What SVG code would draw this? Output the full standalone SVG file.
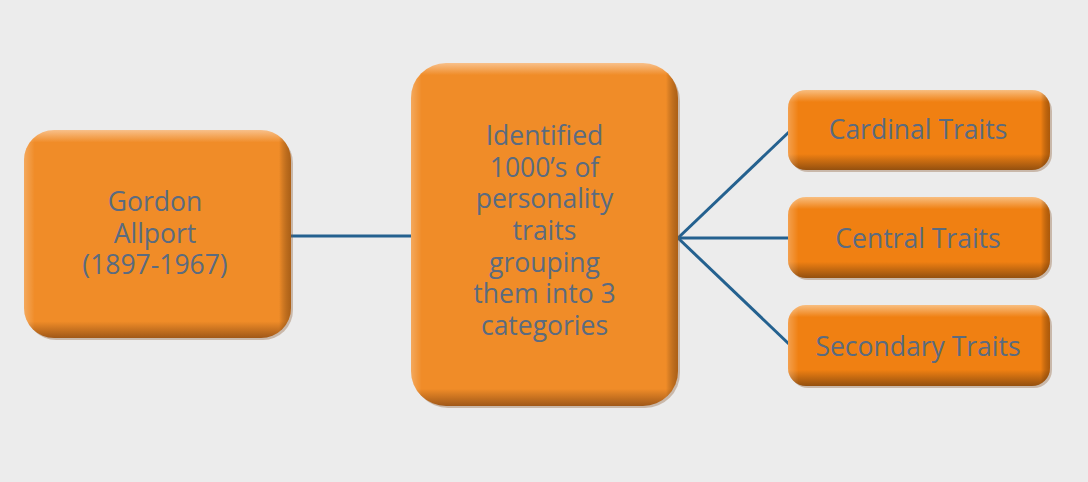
<svg xmlns="http://www.w3.org/2000/svg" width="1088" height="482" viewBox="0 0 1088 482">
<defs>
<linearGradient id="gA" x1="0" y1="0" x2="0" y2="1">
<stop offset="0" stop-color="#F8C08A"/>
<stop offset="0.06" stop-color="#F08C28"/>
<stop offset="0.92" stop-color="#F08C28"/>
<stop offset="1" stop-color="#A05818"/>
</linearGradient>
<linearGradient id="gB" x1="0" y1="0" x2="0" y2="1">
<stop offset="0" stop-color="#F8C08A"/>
<stop offset="0.035" stop-color="#F08C28"/>
<stop offset="0.95" stop-color="#F08C28"/>
<stop offset="1" stop-color="#A05818"/>
</linearGradient>
<linearGradient id="gC" x1="0" y1="0" x2="0" y2="1">
<stop offset="0" stop-color="#F8BE80"/>
<stop offset="0.15" stop-color="#F08012"/>
<stop offset="0.8" stop-color="#F08012"/>
<stop offset="1" stop-color="#94500F"/>
</linearGradient>
<linearGradient id="gR" x1="0" y1="0" x2="1" y2="0">
<stop offset="0.955" stop-color="#000" stop-opacity="0"/>
<stop offset="1" stop-color="#5a2a00" stop-opacity="0.45"/>
</linearGradient>
<linearGradient id="gRs" x1="0" y1="0" x2="1" y2="0">
<stop offset="0.965" stop-color="#000" stop-opacity="0"/>
<stop offset="1" stop-color="#5a2a00" stop-opacity="0.45"/>
</linearGradient>
<linearGradient id="gL" x1="0" y1="0" x2="1" y2="0">
<stop offset="0" stop-color="#fff" stop-opacity="0.25"/>
<stop offset="0.04" stop-color="#fff" stop-opacity="0"/>
</linearGradient>
</defs>
<style>
.t{font-family:"Open Sans","Liberation Sans",sans-serif;fill:#5a6b80;text-anchor:middle;font-size:26.5px}
.sh{fill:#8a5a30;opacity:0.35}
.c{stroke:#24618f;stroke-width:3;fill:none}
</style>
<rect width="1088" height="482" fill="#ECECEC"/>
<g id="connectors">
<line class="c" x1="291" y1="236" x2="411" y2="236"/>
<line class="c" x1="678" y1="238" x2="790" y2="131"/>
<line class="c" x1="678" y1="238" x2="790" y2="238"/>
<line class="c" x1="678" y1="238" x2="790" y2="345"/>
</g>
<g id="gordon">
<rect class="sh" x="26" y="133" width="267" height="207" rx="30"/>
<rect x="24" y="130" width="267" height="208" rx="30" fill="url(#gA)"/>
<rect x="24" y="130" width="267" height="208" rx="30" fill="url(#gR)"/>
<rect x="24" y="130" width="267" height="208" rx="30" fill="url(#gL)"/>
<text class="t" x="155" y="211">Gordon</text>
<text class="t" x="155" y="242.5">Allport</text>
<text class="t" x="155" y="274">(1897-1967)</text>
</g>
<g id="identified">
<rect class="sh" x="413" y="66" width="267" height="342" rx="35"/>
<rect x="411" y="63" width="267" height="343" rx="35" fill="url(#gB)"/>
<rect x="411" y="63" width="267" height="343" rx="35" fill="url(#gR)"/>
<rect x="411" y="63" width="267" height="343" rx="35" fill="url(#gL)"/>
<text class="t" x="544.5" y="145">Identified</text>
<text class="t" x="544.5" y="176.7">1000’s of</text>
<text class="t" x="544.5" y="208.3">personality</text>
<text class="t" x="544.5" y="240">traits</text>
<text class="t" x="544.5" y="271.7">grouping</text>
<text class="t" x="544.5" y="303.3">them into 3</text>
<text class="t" x="544.5" y="335">categories</text>
</g>
<g id="cardinal">
<rect class="sh" x="790" y="93" width="262" height="79" rx="18"/>
<rect x="788" y="90" width="262" height="80" rx="18" fill="url(#gC)"/>
<rect x="788" y="90" width="262" height="80" rx="18" fill="url(#gRs)"/>
<rect x="788" y="90" width="262" height="80" rx="18" fill="url(#gL)"/>
<text class="t" x="918" y="139">Cardinal Traits</text>
</g>
<g id="central">
<rect class="sh" x="790" y="200" width="262" height="80" rx="18"/>
<rect x="788" y="197" width="262" height="81" rx="18" fill="url(#gC)"/>
<rect x="788" y="197" width="262" height="81" rx="18" fill="url(#gRs)"/>
<rect x="788" y="197" width="262" height="81" rx="18" fill="url(#gL)"/>
<text class="t" x="918" y="248">Central Traits</text>
</g>
<g id="secondary">
<rect class="sh" x="790" y="308" width="262" height="80" rx="18"/>
<rect x="788" y="305" width="262" height="81" rx="18" fill="url(#gC)"/>
<rect x="788" y="305" width="262" height="81" rx="18" fill="url(#gRs)"/>
<rect x="788" y="305" width="262" height="81" rx="18" fill="url(#gL)"/>
<text class="t" x="918" y="356">Secondary Traits</text>
</g>
</svg>
